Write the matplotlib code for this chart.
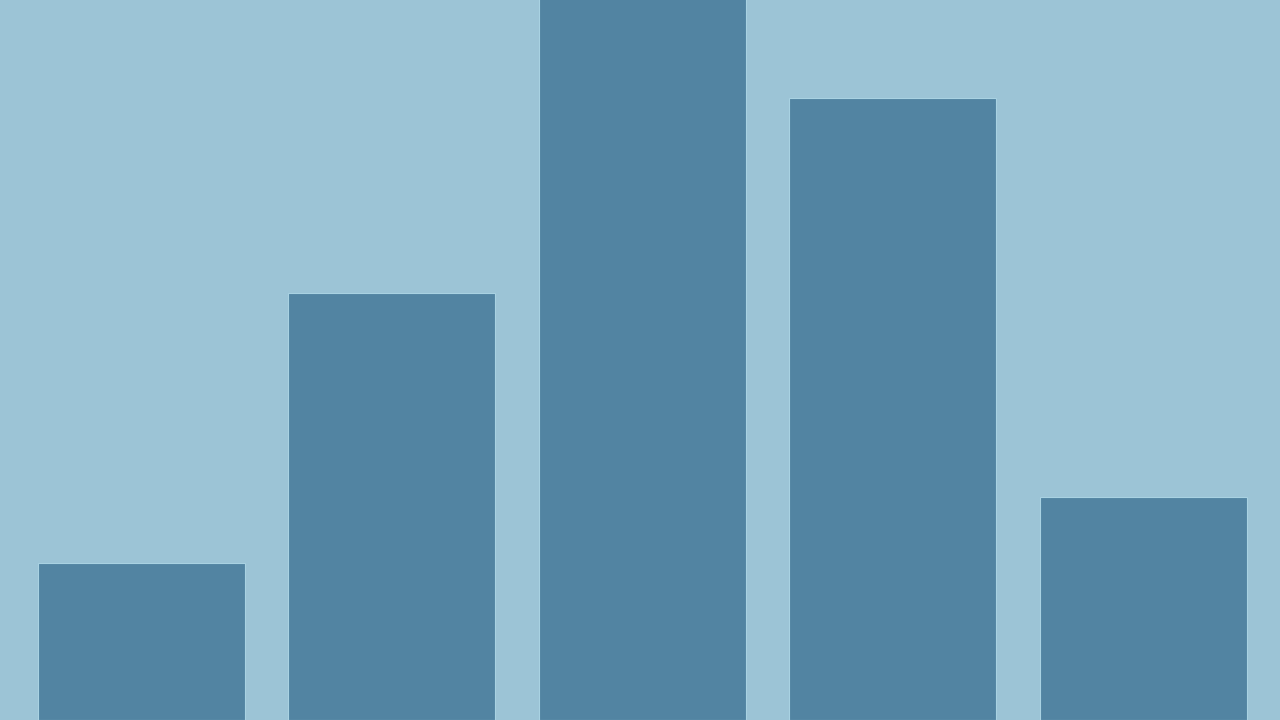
import numpy as np
import matplotlib.pyplot as plt

# Bar heights (arbitrary units; the middle bar runs off the top)
categories = ["A", "B", "C", "D", "E"]
values = [157, 427, 760, 622, 223]

bg_color = "#9cc4d6"
bar_color = "#5284a2"

fig = plt.figure(figsize=(12.8, 7.2), dpi=100)
fig.patch.set_facecolor(bg_color)
ax = fig.add_axes([0, 0, 1, 1])
ax.set_facecolor(bg_color)

x = np.arange(len(categories))
ax.bar(x, values, width=0.826, color=bar_color,
       edgecolor="#a9d2e2", linewidth=0.8)

ax.set_xlim(-0.563, 4.545)
ax.set_ylim(0, 720)
ax.axis("off")

fig.savefig("out.png", dpi=100, facecolor=bg_color)
